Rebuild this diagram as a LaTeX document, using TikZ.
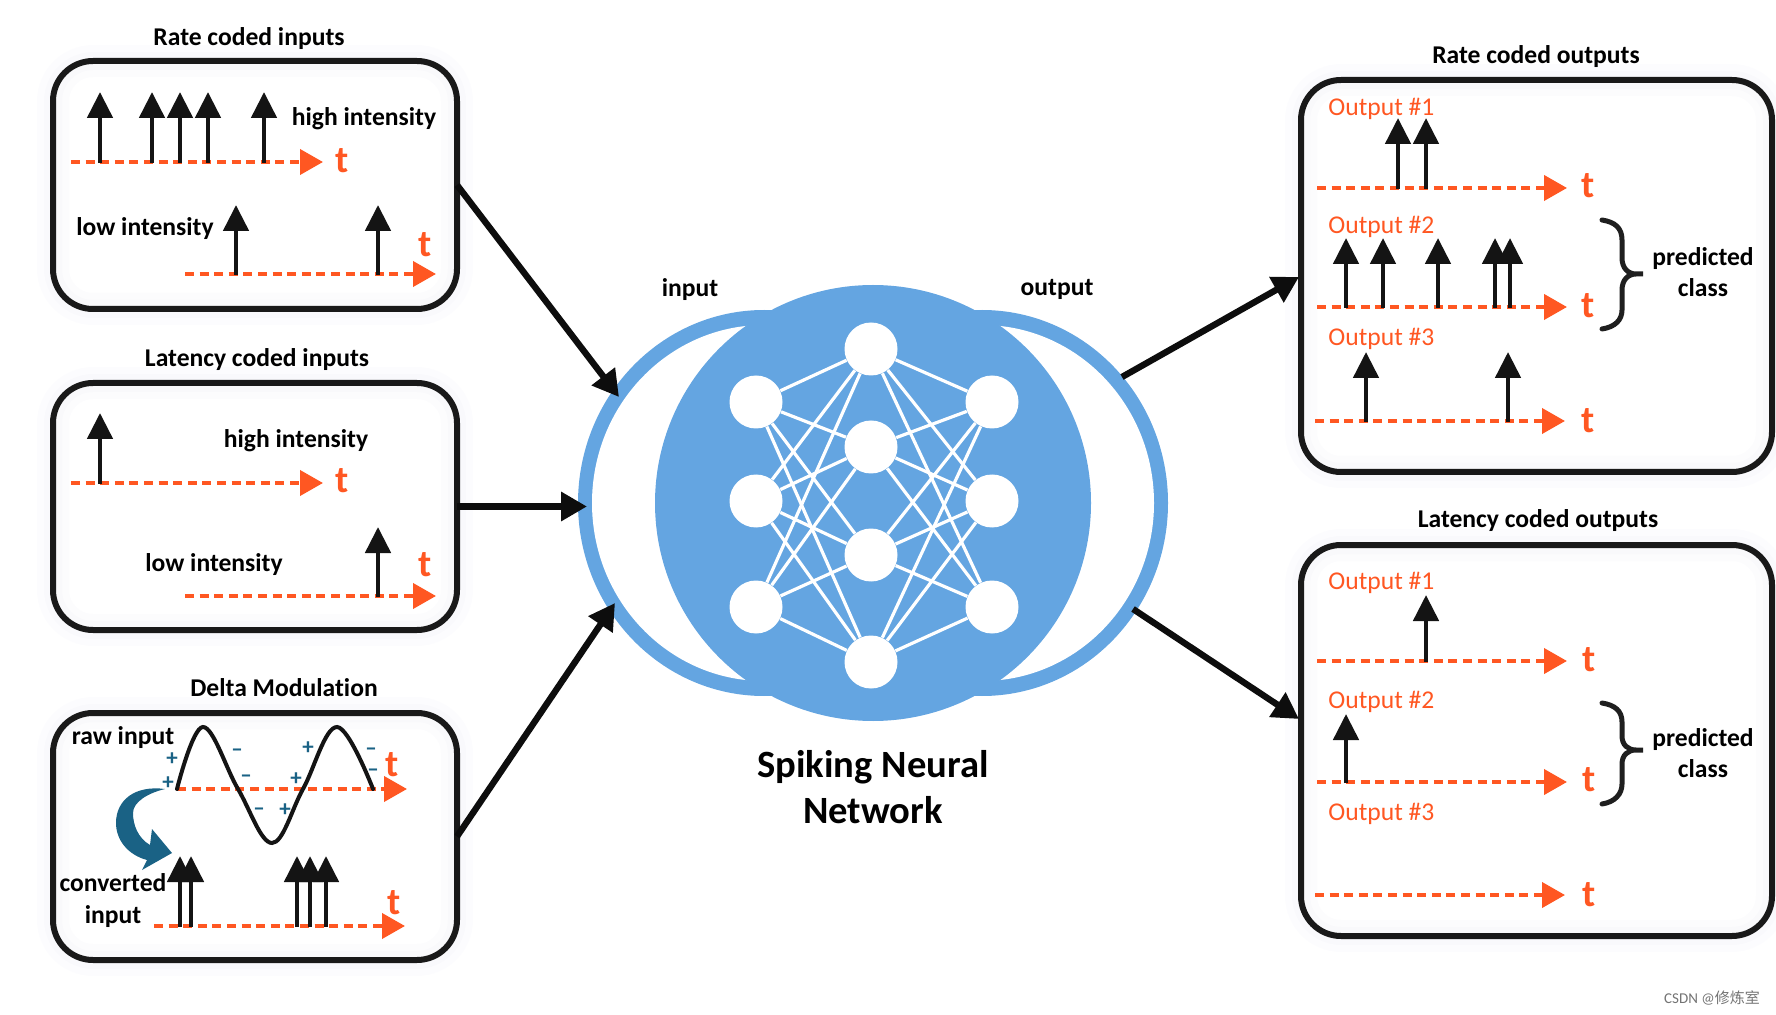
\documentclass[tikz,border=0pt]{standalone}
\usepackage{fontspec}
\setmainfont{Carlito}[Ligatures={NoCommon}]
\newfontfamily\cjkfont{Noto Sans CJK SC}
\usetikzlibrary{arrows.meta, positioning, shapes.geometric}
\definecolor{snnblue}{HTML}{64A5E1}
\definecolor{spikeorange}{HTML}{FF5722}
\definecolor{deltateal}{HTML}{1A6285}
\tikzset{
  codebox/.style = {
    rounded corners=20pt, minimum width=202pt, inner sep=0pt, outer sep=0pt, line width=3pt,
    preaction={fill=white},
    preaction={draw=black!45!blue!30, opacity=0.035, line width=16pt, yshift=-2pt},
    preaction={draw=black!45!blue!30, opacity=0.04, line width=9pt, yshift=-1pt},
    draw=black!90
  },
  boxtitle/.style = {font=\bfseries\fontsize{12.8}{15}\selectfont, inner sep=0pt, yshift=-1.4pt},
  cue/.style = {font=\bfseries\fontsize{12.8}{15}\selectfont, inner sep=0pt, align=center, yshift=-1.1pt},
  outlabel/.style = {font=\fontsize{12.8}{15}\selectfont, text=spikeorange, inner sep=0pt, anchor=west, yshift=-1.1pt},
  tlabel/.style = {font=\bfseries\fontsize{19}{19}\selectfont, text=spikeorange, inner sep=0pt},
  timeaxis/.style = {draw=spikeorange, line width=2pt, dash pattern=on 4.5pt off 2.8pt,
    -{Triangle[length=11.5pt,width=12.5pt]}},
  spike/.style = {draw=black!92, line width=2.4pt, -{Triangle[length=13pt,width=12.5pt]}},
  bigarrow/.style = {draw=black!95, line width=3.2pt, -{Triangle[length=13pt,width=14pt]}},
  neuron/.style = {ellipse, fill=white, minimum width=26.5pt, minimum height=26.5pt, inner sep=0pt},
  synapse/.style = {draw=white, line width=1.6pt},
  sign/.style = {font=\bfseries\fontsize{11.5}{12}\selectfont, text=deltateal, inner sep=0pt},
  bracepath/.style = {draw=black!88, line width=2.5pt, line cap=round},
}
\begin{document}
\begin{tikzpicture}[x=0.5pt, y=-0.5pt]
    \useasboundingbox (0,0) rectangle (1776,1015);

    % Input boxes, stacked on the left
    \node[codebox, minimum height=124pt] (rateIn) at (255,185) {};
    \node[codebox, minimum height=123.5pt, below=37pt of rateIn] (latIn) {};
    \node[codebox, minimum height=123.5pt, below=41.5pt of latIn] (deltaIn) {};

    % Output boxes on the right
    \node[codebox, minimum width=235.5pt, minimum height=196pt] (rateOut) at (1536.5,276) {};
    \node[codebox, minimum width=235.5pt, minimum height=195.5pt, below=36.5pt of rateOut] (latOut) {};

    \node[boxtitle] (rateInTitle) at (249,36) {Rate coded inputs};
    \node[boxtitle] (latInTitle) at (257,357) {Latency coded inputs};
    \node[boxtitle] (deltaInTitle) at (284,685) {Delta Modulation};
    \node[boxtitle] (rateOutTitle) at (1536,54) {Rate coded outputs};
    \node[boxtitle] (latOutTitle) at (1538,518) {Latency coded outputs};

    % Rate coded inputs
    \draw[timeaxis] (71,162) -- (323,162);
    \foreach \x in {100,152,180,208,264} \draw[spike] (\x,163) -- (\x,92);
    \node[tlabel] (tRateHigh) at (342,161) {t};
    \node[cue] (rateHigh) at (364,116) {high intensity};
    \draw[timeaxis] (185,274) -- (436,274);
    \foreach \x in {236,378} \draw[spike] (\x,275) -- (\x,205);
    \node[tlabel] (tRateLow) at (425,245) {t};
    \node[cue] (rateLow) at (145,226) {low intensity};

    % Latency coded inputs
    \draw[timeaxis] (71,483) -- (323,483);
    \draw[spike] (100,484) -- (100,413);
    \node[tlabel] (tLatHigh) at (342,481) {t};
    \node[cue] (latHigh) at (296,438) {high intensity};
    \draw[timeaxis] (185,596) -- (436,596);
    \draw[spike] (378,597) -- (378,527);
    \node[tlabel] (tLatLow) at (425,565) {t};
    \node[cue] (latLow) at (214,562) {low intensity};

    % Delta modulation
    \draw[timeaxis] (177,789) -- (407,789);
    \draw[draw=black!92, line width=2pt, line cap=round] plot[smooth, tension=0.62] coordinates
      {(177,789) (203,727) (238,789) (272,843) (303,789) (337,727) (373,789)};
    \node[tlabel] (tRaw) at (392,765) {t};
    \node[cue] (rawInput) at (123,735) {raw input};
    \foreach \x/\y [count=\i] in {172/759,168/783,285/810,296/779,308/748}
      \node[sign] (plus\i) at (\x,\y) {+};
    \foreach \x/\y [count=\i] in {237/753,246/779,259/812,371/752,373/773}
      \node[sign] (minus\i) at (\x,\y) {–};
    \fill[deltateal] (165,789) .. controls (135,785) and (116,800) .. (116,823)
      .. controls (116,840) and (128,855) .. (147,860) -- (142,870) -- (172,853) -- (152,829)
      -- (150,845) .. controls (138,838) and (133,825) .. (133,813)
      .. controls (133,802) and (148,793) .. (165,789) -- cycle;
    \draw[timeaxis] (154,926) -- (405,926);
    \foreach \x in {180,191,297,310,326} \draw[spike] (\x,927) -- (\x,856);
    \node[tlabel] (tConverted) at (394,903) {t};
    \node[cue] (convertedInput) at (113,898) {converted\\[1pt]input};

    % Rate coded outputs
    \node[outlabel] (rateOutA) at (1328,107) {Output \#1};
    \draw[timeaxis] (1317,188) -- (1567,188);
    \foreach \x in {1398,1426} \draw[spike] (\x,189) -- (\x,118);
    \node[tlabel] (tRateOutA) at (1588,186) {t};
    \node[outlabel] (rateOutB) at (1328,225) {Output \#2};
    \draw[timeaxis] (1317,307) -- (1567,307);
    \foreach \x in {1346,1383,1438,1495,1510} \draw[spike] (\x,308) -- (\x,238);
    \node[tlabel] (tRateOutB) at (1588,306) {t};
    \node[outlabel] (rateOutC) at (1328,337) {Output \#3};
    \draw[timeaxis] (1315,421) -- (1565,421);
    \foreach \x in {1366,1508} \draw[spike] (\x,422) -- (\x,352);
    \node[tlabel] (tRateOutC) at (1588,421) {t};
    \draw[bracepath] (1602,220) .. controls (1615,222) and (1622,228) .. (1622,240) -- (1622,258)
      .. controls (1622,268) and (1628,274) .. (1636,274) -- (1643,274) -- (1636,274)
      .. controls (1628,274) and (1622,280) .. (1622,290) -- (1622,310)
      .. controls (1622,320) and (1615,327) .. (1602,329);
    \node[cue] (rateClass) at (1703,270) {predicted\\[0.5pt]class};

    % Latency coded outputs
    \node[outlabel] (latOutA) at (1328,581) {Output \#1};
    \draw[timeaxis] (1317,661) -- (1567,661);
    \draw[spike] (1426,662) -- (1426,595);
    \node[tlabel] (tLatOutA) at (1589,660) {t};
    \node[outlabel] (latOutB) at (1328,700) {Output \#2};
    \draw[timeaxis] (1317,782) -- (1567,782);
    \draw[spike] (1346,783) -- (1346,714);
    \node[tlabel] (tLatOutB) at (1589,780) {t};
    \node[outlabel] (latOutC) at (1328,812) {Output \#3};
    \draw[timeaxis] (1315,895) -- (1565,895);
    \node[tlabel] (tLatOutC) at (1589,895) {t};
    \draw[bracepath] (1602,703) .. controls (1615,705) and (1622,711) .. (1622,722) -- (1622,736)
      .. controls (1622,745) and (1628,750) .. (1636,750) -- (1643,750) -- (1636,750)
      .. controls (1628,750) and (1622,755) .. (1622,764) -- (1622,784)
      .. controls (1622,794) and (1615,802) .. (1602,804);
    \node[cue] (latClass) at (1703,751) {predicted\\[0.5pt]class};

    % Network body: two rings behind one large disc
    \node[ellipse, fill=snnblue, minimum width=186pt, minimum height=193pt, inner sep=0pt] (ringIn) at (764,503) {};
    \node[ellipse, fill=snnblue, minimum width=186pt, minimum height=193pt, inner sep=0pt] (ringOut) at (982,503) {};
    \node[ellipse, fill=white, minimum width=172pt, minimum height=178pt, inner sep=0pt] (gapIn) at (764,503) {};
    \node[ellipse, fill=white, minimum width=172pt, minimum height=178pt, inner sep=0pt] (gapOut) at (982,503) {};
    \node[ellipse, fill=snnblue, minimum width=218pt, minimum height=218pt, inner sep=0pt] (core) at (873,503) {};

    % Neurons
    \foreach \y [count=\i] in {402,501,607} \node[neuron] (left\i) at (756,\y) {};
    \foreach \y [count=\i] in {349,447,555,662} \node[neuron] (mid\i) at (871,\y) {};
    \foreach \y [count=\i] in {402,501,607} \node[neuron] (right\i) at (992,\y) {};
    \foreach \a in {1,2,3} \foreach \b in {1,2,3,4} {
      \draw[synapse] (left\a) -- (mid\b);
      \draw[synapse] (mid\b) -- (right\a);
    }

    \node[cue] (snnIn) at (690,287) {input};
    \node[cue] (snnOut) at (1057,287) {output};
    \node[align=center, font=\bfseries\fontsize{19.3}{23}\selectfont, inner sep=0pt] (snnName) at (873,787) {Spiking Neural\\Network};

    % Arrows into and out of the network
    \coordinate (inA) at (619,397);
    \coordinate (inB) at (587,506.5);
    \coordinate (inC) at (615,603);
    \coordinate (outA) at (1299,277);
    \coordinate (outB) at (1299,719);
    \coordinate (startA) at (1122,377);
    \coordinate (startB) at (1133,609);
    \draw[bigarrow] (rateIn.east) -- (inA);
    \draw[bigarrow] (latIn.east) -- (inB);
    \draw[bigarrow] (deltaIn.east) -- (inC);
    \draw[bigarrow] (startA) -- (outA);
    \draw[bigarrow] (startB) -- (outB);

    \node[text=black!55, font=\fontsize{7.5}{9}\selectfont, inner sep=0pt] (credit) at (1712,998) {CSDN @{\cjkfont 修炼室}};
\end{tikzpicture}
\end{document}
